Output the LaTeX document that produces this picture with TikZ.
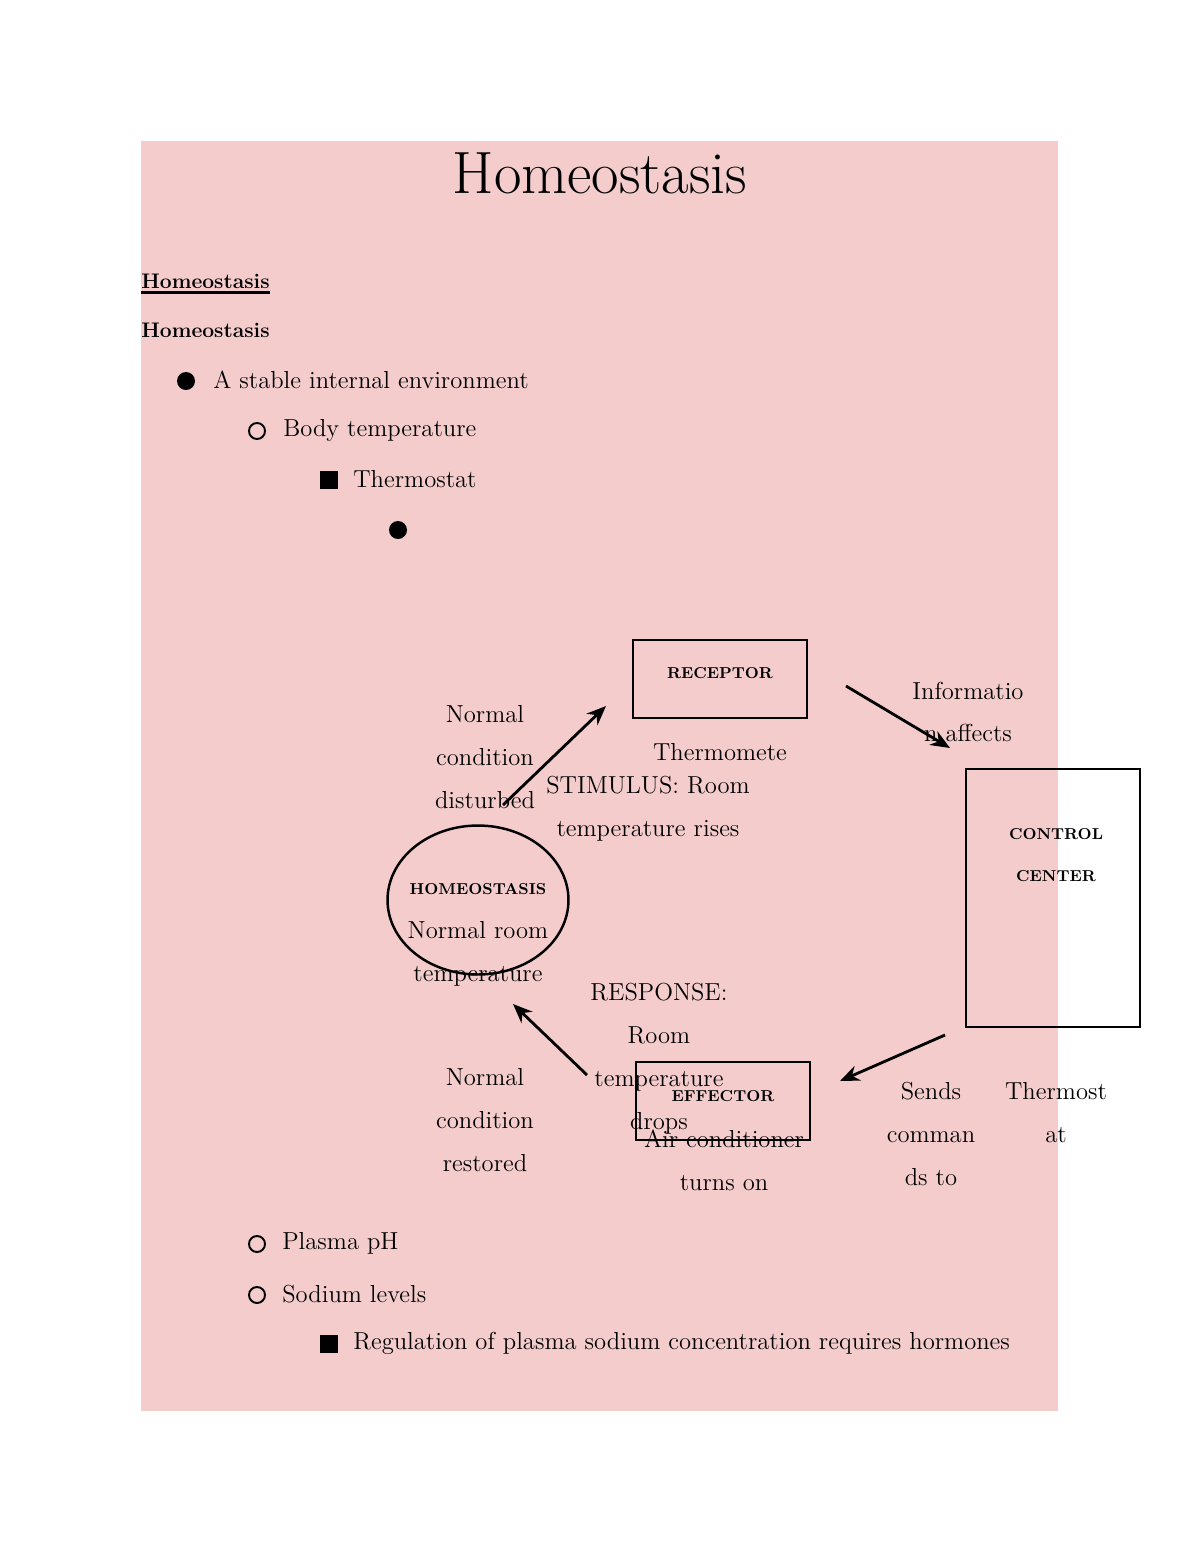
\documentclass[tikz,border=0pt]{standalone}
\usepackage{tikz}
\usetikzlibrary{arrows.meta,shapes.geometric}
\definecolor{notepink}{HTML}{F4CCCC}

\begin{document}
\begin{tikzpicture}[x=0.02cm, y=-0.02cm, >={Stealth[length=11pt,width=9pt]},
    hand/.style={font=\fontsize{14}{24.4}\selectfont, align=center, inner sep=0pt},
    caps/.style={font=\bfseries\fontsize{9}{24.4}\selectfont, align=center, inner sep=0pt},
    stagebox/.style={draw, line width=1.4pt, minimum width=3.48cm, minimum height=1.56cm, inner sep=0pt},
    flow/.style={->, line width=1.6pt}]
    \useasboundingbox (0,0) rectangle (1200,1553);
    \fill[white] (0,0) rectangle (1200,1553);
    \fill[notepink] (141,141) rectangle (1058,1411);

    % heading
    \node[font=\fontsize{34}{40}\selectfont, inner sep=0pt] (title) at (600,173) {Homeostasis};
    \node[font=\bfseries\fontsize{12}{14}\selectfont, anchor=west, inner sep=0pt] (head1) at (141,281) {Homeostasis};
    \draw[line width=1.6pt] ([yshift=-2pt]head1.south west) -- ([yshift=-2pt]head1.south east);
    \node[font=\bfseries\fontsize{12}{14}\selectfont, anchor=west, inner sep=0pt] (head2) at (141,330) {Homeostasis};

    % list top
    \fill (186,381) circle (9);
    \node[hand, anchor=west] (item1) at (213,380) {A stable internal environment};
    \draw[line width=1.1pt] (257,431) circle (8);
    \node[hand, anchor=west] (item2) at (283,430) {Body temperature};
    \fill (320,471) rectangle (338,489);
    \node[hand, anchor=west] (item3) at (353,479) {Thermostat};
    \fill (398,530) circle (9);

    % feedback loop
    \node[ellipse, draw, line width=1.4pt, minimum width=3.62cm, minimum height=2.98cm] (homeo) at (478,900) {};
    \node[caps] (homeolbl) at (478,889) {HOMEOSTASIS};
    \node[hand] (homeotxt) at (478,954) {Normal room\\temperature};

    \node[stagebox] (receptor) at (720,679) {};
    \node[caps] (receptorlbl) at (720,673) {RECEPTOR};
    \node[hand] (thermo) at (720,752) {Thermomete};

    \node[stagebox, minimum width=3.48cm, minimum height=5.16cm] (control) at (1053,898) {};
    \node[caps] (controllbl) at (1056,855) {CONTROL\\CENTER};

    \node[stagebox] (effector) at (723,1101) {};
    \node[caps] (effectorlbl) at (723,1096) {EFFECTOR};
    \node[hand] (aircon) at (724,1160) {Air conditioner\\turns on};

    \node[hand] (disturbed) at (485,757) {Normal\\condition\\disturbed};
    \node[hand] (stimulus) at (648,809) {STIMULUS: Room\\temperature rises};
    \node[hand] (info) at (968,712) {Informatio\\n affects};
    \node[hand] (response) at (659,1059) {RESPONSE:\\Room\\temperature\\drops};
    \node[hand] (restored) at (485,1120) {Normal\\condition\\restored};
    \node[hand] (sends) at (931,1134) {Sends\\comman\\ds to};
    \node[hand] (thermostat) at (1056,1113) {Thermost\\at};

    \coordinate (a1) at (503,805);
    \coordinate (a2) at (606,706);
    \coordinate (b1) at (846,686);
    \coordinate (b2) at (950,748);
    \coordinate (c1) at (945,1035);
    \coordinate (c2) at (840,1081);
    \coordinate (d1) at (587,1075);
    \coordinate (d2) at (513,1004);
    \draw[flow] (a1) -- (a2);
    \draw[flow] (b1) -- (b2);
    \draw[flow] (c1) -- (c2);
    \draw[flow] (d1) -- (d2);

    % list bottom
    \draw[line width=1.1pt] (257,1244) circle (8);
    \node[hand, anchor=west] (item4) at (282,1243) {Plasma pH};
    \draw[line width=1.1pt] (257,1295) circle (8);
    \node[hand, anchor=west] (item5) at (282,1294) {Sodium levels};
    \fill (320,1335) rectangle (338,1353);
    \node[hand, anchor=west] (item6) at (353,1343) {Regulation of plasma sodium concentration requires hormones};
\end{tikzpicture}
\end{document}
